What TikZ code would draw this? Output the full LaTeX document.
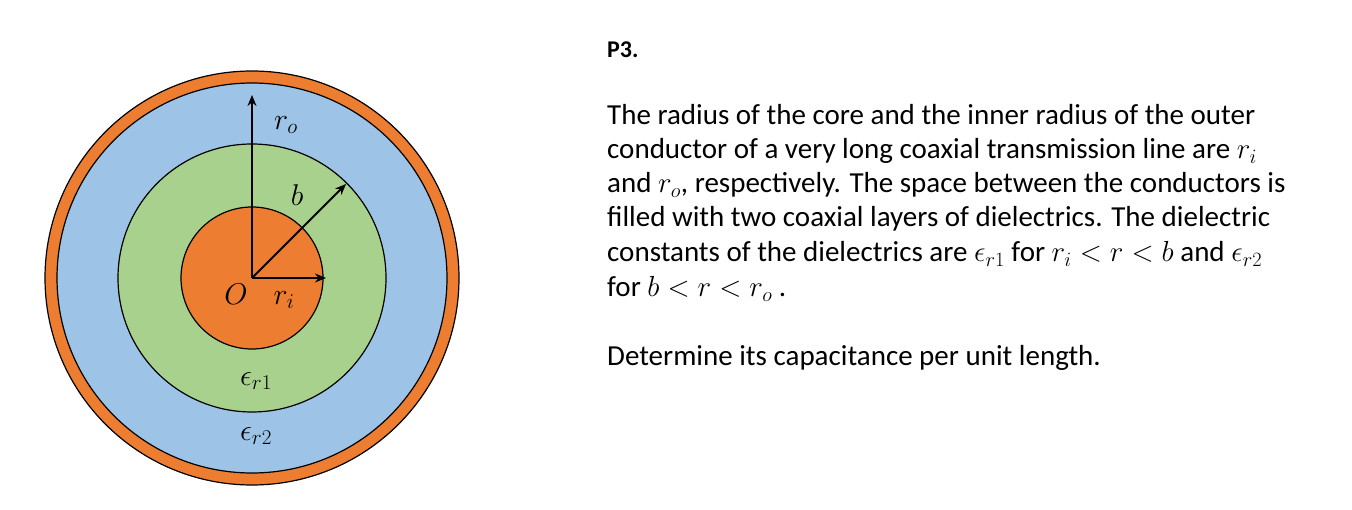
\documentclass[tikz,border=0pt]{standalone}
\usepackage{fix-cm}
\usepackage{fontspec}
\setmainfont{Carlito}
\usetikzlibrary{arrows.meta}
\definecolor{orng}{RGB}{237,125,49}
\definecolor{blu}{RGB}{157,195,230}
\definecolor{grn}{RGB}{169,209,142}
\begin{document}
\begin{tikzpicture}[x=1pt,y=-1pt,
  ring/.style={draw=black,line width=1.2pt},
  arr/.style={line width=1.8pt,-{Stealth[length=11pt,width=9pt]}},
  lbl/.style={font=\fontsize{30}{34}\selectfont},
  txt/.style={anchor=base west,inner sep=0pt,font=\fontsize{29}{34}\selectfont}]
\useasboundingbox (0,0) rectangle (1352,510);
\coordinate (c) at (252,278);
\fill[orng,draw=black,line width=1.2pt] (c) circle (207);
\fill[blu] (c) circle (195);
\draw[ring] (c) circle (195);
\fill[grn,draw=black,line width=1.2pt] (c) circle (134);
\fill[orng,draw=black,line width=1.2pt] (c) circle (71);
\coordinate (ro) at (252,95);
\coordinate (bb) at (346,184);
\coordinate (ri) at (326,278);
\draw[arr] (c) -- (ro);
\draw[arr] (c) -- (bb);
\draw[arr] (c) -- (ri);
\node[lbl] (l1) at (286,125) {$r_o$};
\node[lbl] (l2) at (297,195) {$b$};
\node[lbl] (l3) at (236,294) {$O$};
\node[lbl] (l4) at (284,300) {$r_i$};
\node[lbl] (l5) at (256,381) {$\epsilon_{r1}$};
\node[lbl] (l6) at (256,436) {$\epsilon_{r2}$};
\node[txt,font=\bfseries\fontsize{24}{28}\selectfont] (t0) at (607,58) {P3.};
\node[txt] (t1) at (607,125) {The radius of the core and the inner radius of the outer};
\node[txt] (t2) at (607,159) {conductor of a very long coaxial transmission line are $r_i$};
\node[txt] (t3) at (607,193) {and $r_o$, respectively. The space between the conductors is};
\node[txt] (t4) at (607,227) {filled with two coaxial layers of dielectrics. The dielectric};
\node[txt] (t5) at (607,262) {constants of the dielectrics are $\epsilon_{r1}$ for $r_i<r<b$ and $\epsilon_{r2}$};
\node[txt] (t6) at (607,297) {for $b<r<r_o$ .};
\node[txt] (t7) at (607,366) {Determine its capacitance per unit length.};
\end{tikzpicture}
\end{document}
